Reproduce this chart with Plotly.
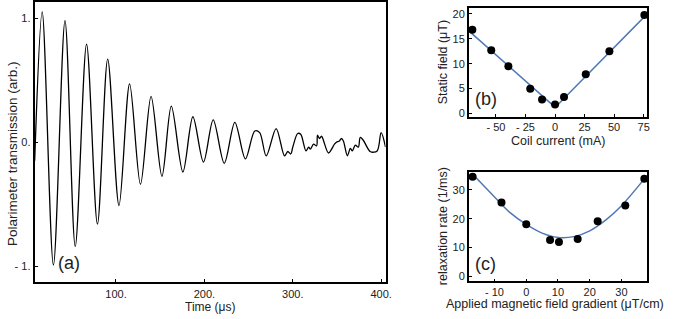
import plotly.graph_objects as go

# ---- Panel (a): polarimeter signal (extrema and wiggles) ----
time_us = [8, 16.5, 29.2, 42.3, 53.9, 66.7, 79, 90.6, 103.4, 115.4, 127.7, 139.7, 152, 162.6,
           175.7, 187, 199, 210, 222.5, 234.5, 246.4, 257, 262.6, 270, 281.2, 290.7, 294.4,
           297.8, 300, 305.6, 309, 315, 318, 320, 323.6, 327, 328, 330.3, 332.6, 340.4, 347.2,
           349.4, 352.8, 355, 357.3, 361.8, 365.2, 367.4, 370.8, 374.2, 376.4, 379.8, 388,
           395.5, 400, 405]
signal = [-0.15, 1.05, -0.99, 0.98, -0.84, 0.79, -0.66, 0.67, -0.51, 0.47, -0.34, 0.37, -0.275, 0.29,
          -0.24, 0.205, -0.16, 0.18, -0.17, 0.16, -0.135, 0.09, 0.077, -0.11, 0.11, -0.11, -0.075,
          -0.095, -0.04, 0.07, 0.064, -0.07, -0.04, -0.055, -0.016, -0.03, 0.056, 0.03, 0.048, -0.087,
          -0.016, 0.0, 0.01, 0.03, 0.01, -0.11, -0.05, -0.07, -0.024, -0.04, 0.038, 0.016, -0.077,
          -0.07, 0.077, -0.04]
a_xticks = [100, 200, 300, 400]
a_xlabels = ["100.", "200.", "300.", "400."]
a_yticks = [-1, 0, 1]
a_ylabels = ["- 1.", "0.", "1."]

# ---- Panel (b): static field vs coil current ----
coil_mA = [-70, -54, -39.5, -21, -11, 0, 7.6, 26, 46, 75.6]
field_uT = [16.8, 12.7, 9.5, 5.0, 2.8, 1.8, 3.3, 7.9, 12.5, 19.8]
b_fit_x = [-73, -40, -20, -10, -5, -2, 0, 2, 5, 10, 25, 50, 78]
b_fit_y = [16.6, 9.6, 5.4, 3.3, 2.3, 1.7, 1.4, 1.7, 2.4, 3.6, 7.2, 13.2, 20.0]
b_xticks = [-50, -25, 0, 25, 50, 75]
b_xlabels = ["- 50", "- 25", "0", "25", "50", "75"]
b_yticks = [0, 5, 10, 15, 20]

# ---- Panel (c): relaxation rate vs gradient ----
grad = [-16.9, -7.8, 0, 7.5, 10.3, 16.2, 22.5, 31.2, 37.2]
rate = [34.5, 25.6, 18.1, 12.6, 11.9, 13.0, 19.1, 24.6, 33.8]
c_fit_x = [-17, -10, -5, 0, 5, 10, 15, 20, 25, 30, 37]
c_fit_y = [35.5, 27.5, 22.0, 18.0, 15.0, 13.5, 13.8, 15.8, 19.5, 24.5, 33.5]
c_xticks = [-10, 0, 10, 20, 30]
c_xlabels = ["- 10", "0", "10", "20", "30"]
c_yticks = [0, 10, 20, 30]

FONT = "Liberation Sans, Arial, sans-serif"
FIT_COLOR = "#4f79b5"

fig = go.Figure()
fig.add_trace(go.Scatter(x=time_us, y=signal, mode="lines",
                         line=dict(color="black", width=1.3, shape="spline", smoothing=0.9),
                         xaxis="x", yaxis="y", showlegend=False))
fig.add_trace(go.Scatter(x=b_fit_x, y=b_fit_y, mode="lines",
                         line=dict(color=FIT_COLOR, width=1.5),
                         xaxis="x2", yaxis="y2", showlegend=False))
fig.add_trace(go.Scatter(x=coil_mA, y=field_uT, mode="markers",
                         marker=dict(color="black", size=8),
                         xaxis="x2", yaxis="y2", showlegend=False))
fig.add_trace(go.Scatter(x=c_fit_x, y=c_fit_y, mode="lines",
                         line=dict(color=FIT_COLOR, width=1.5, shape="spline", smoothing=1.0),
                         xaxis="x3", yaxis="y3", showlegend=False))
fig.add_trace(go.Scatter(x=grad, y=rate, mode="markers",
                         marker=dict(color="black", size=8),
                         xaxis="x3", yaxis="y3", showlegend=False))

ax_common = dict(showgrid=False, zeroline=False, showline=True, linecolor="black",
                 mirror=True, ticks="inside", ticklen=3, tickcolor="black",
                 tickfont=dict(family=FONT, size=11, color="#222"))

fig.update_layout(
    width=675, height=319,
    margin=dict(l=0, r=0, t=0, b=0),
    paper_bgcolor="white", plot_bgcolor="white",
    font=dict(family=FONT, color="#222"),
    xaxis=dict(domain=[35/675, 389/675], range=[8, 405], anchor="y",
               tickvals=a_xticks, ticktext=a_xlabels, linewidth=2, **ax_common),
    yaxis=dict(domain=[1-285/319, 1-1/319], range=[-1.13, 1.13], anchor="x",
               tickvals=a_yticks, ticktext=a_ylabels, linewidth=2, **ax_common),
    xaxis2=dict(domain=[473/675, 653/675], range=[-73, 78], anchor="y2",
                tickvals=b_xticks, ticktext=b_xlabels, linewidth=1.5, **ax_common),
    yaxis2=dict(domain=[1-117/319, 1-7/319], range=[-0.6, 21.2], anchor="x2",
                tickvals=b_yticks, linewidth=1.5, **ax_common),
    xaxis3=dict(domain=[473/675, 653/675], range=[-18.1, 38.1], anchor="y3",
                tickvals=c_xticks, ticktext=c_xlabels, linewidth=1.5, **ax_common),
    yaxis3=dict(domain=[1-284/319, 1-173/319], range=[-1.7, 36.2], anchor="x3",
                tickvals=c_yticks, linewidth=1.5, **ax_common),
)

def px_ann(text, x, y, size, angle=0):
    fig.add_annotation(text=text, x=x/675, y=1-y/319, xref="paper", yref="paper",
                       showarrow=False, textangle=angle, xanchor="center", yanchor="middle",
                       font=dict(family=FONT, size=size, color="#222"))

px_ann("Polarimeter transmission (arb.)", 12, 154, 13.5, -90)
px_ann("Time (μs)", 212, 310, 12)
px_ann("(a)", 70, 265, 18)
px_ann("Static field (μT)", 447, 62, 12.5, -90)
px_ann("Coil current (mA)", 563, 142, 12.5)
px_ann("(b)", 490, 99, 18)
px_ann("relaxation rate (1/ms)", 447, 228, 12.5, -90)
px_ann("Applied magnetic field gradient (μT/cm)", 560, 307, 12.5)
px_ann("(c)", 490, 266, 18)

fig.write_html("out.html", config={"displayModeBar": False},
               post_script="document.body.style.margin='0';")
